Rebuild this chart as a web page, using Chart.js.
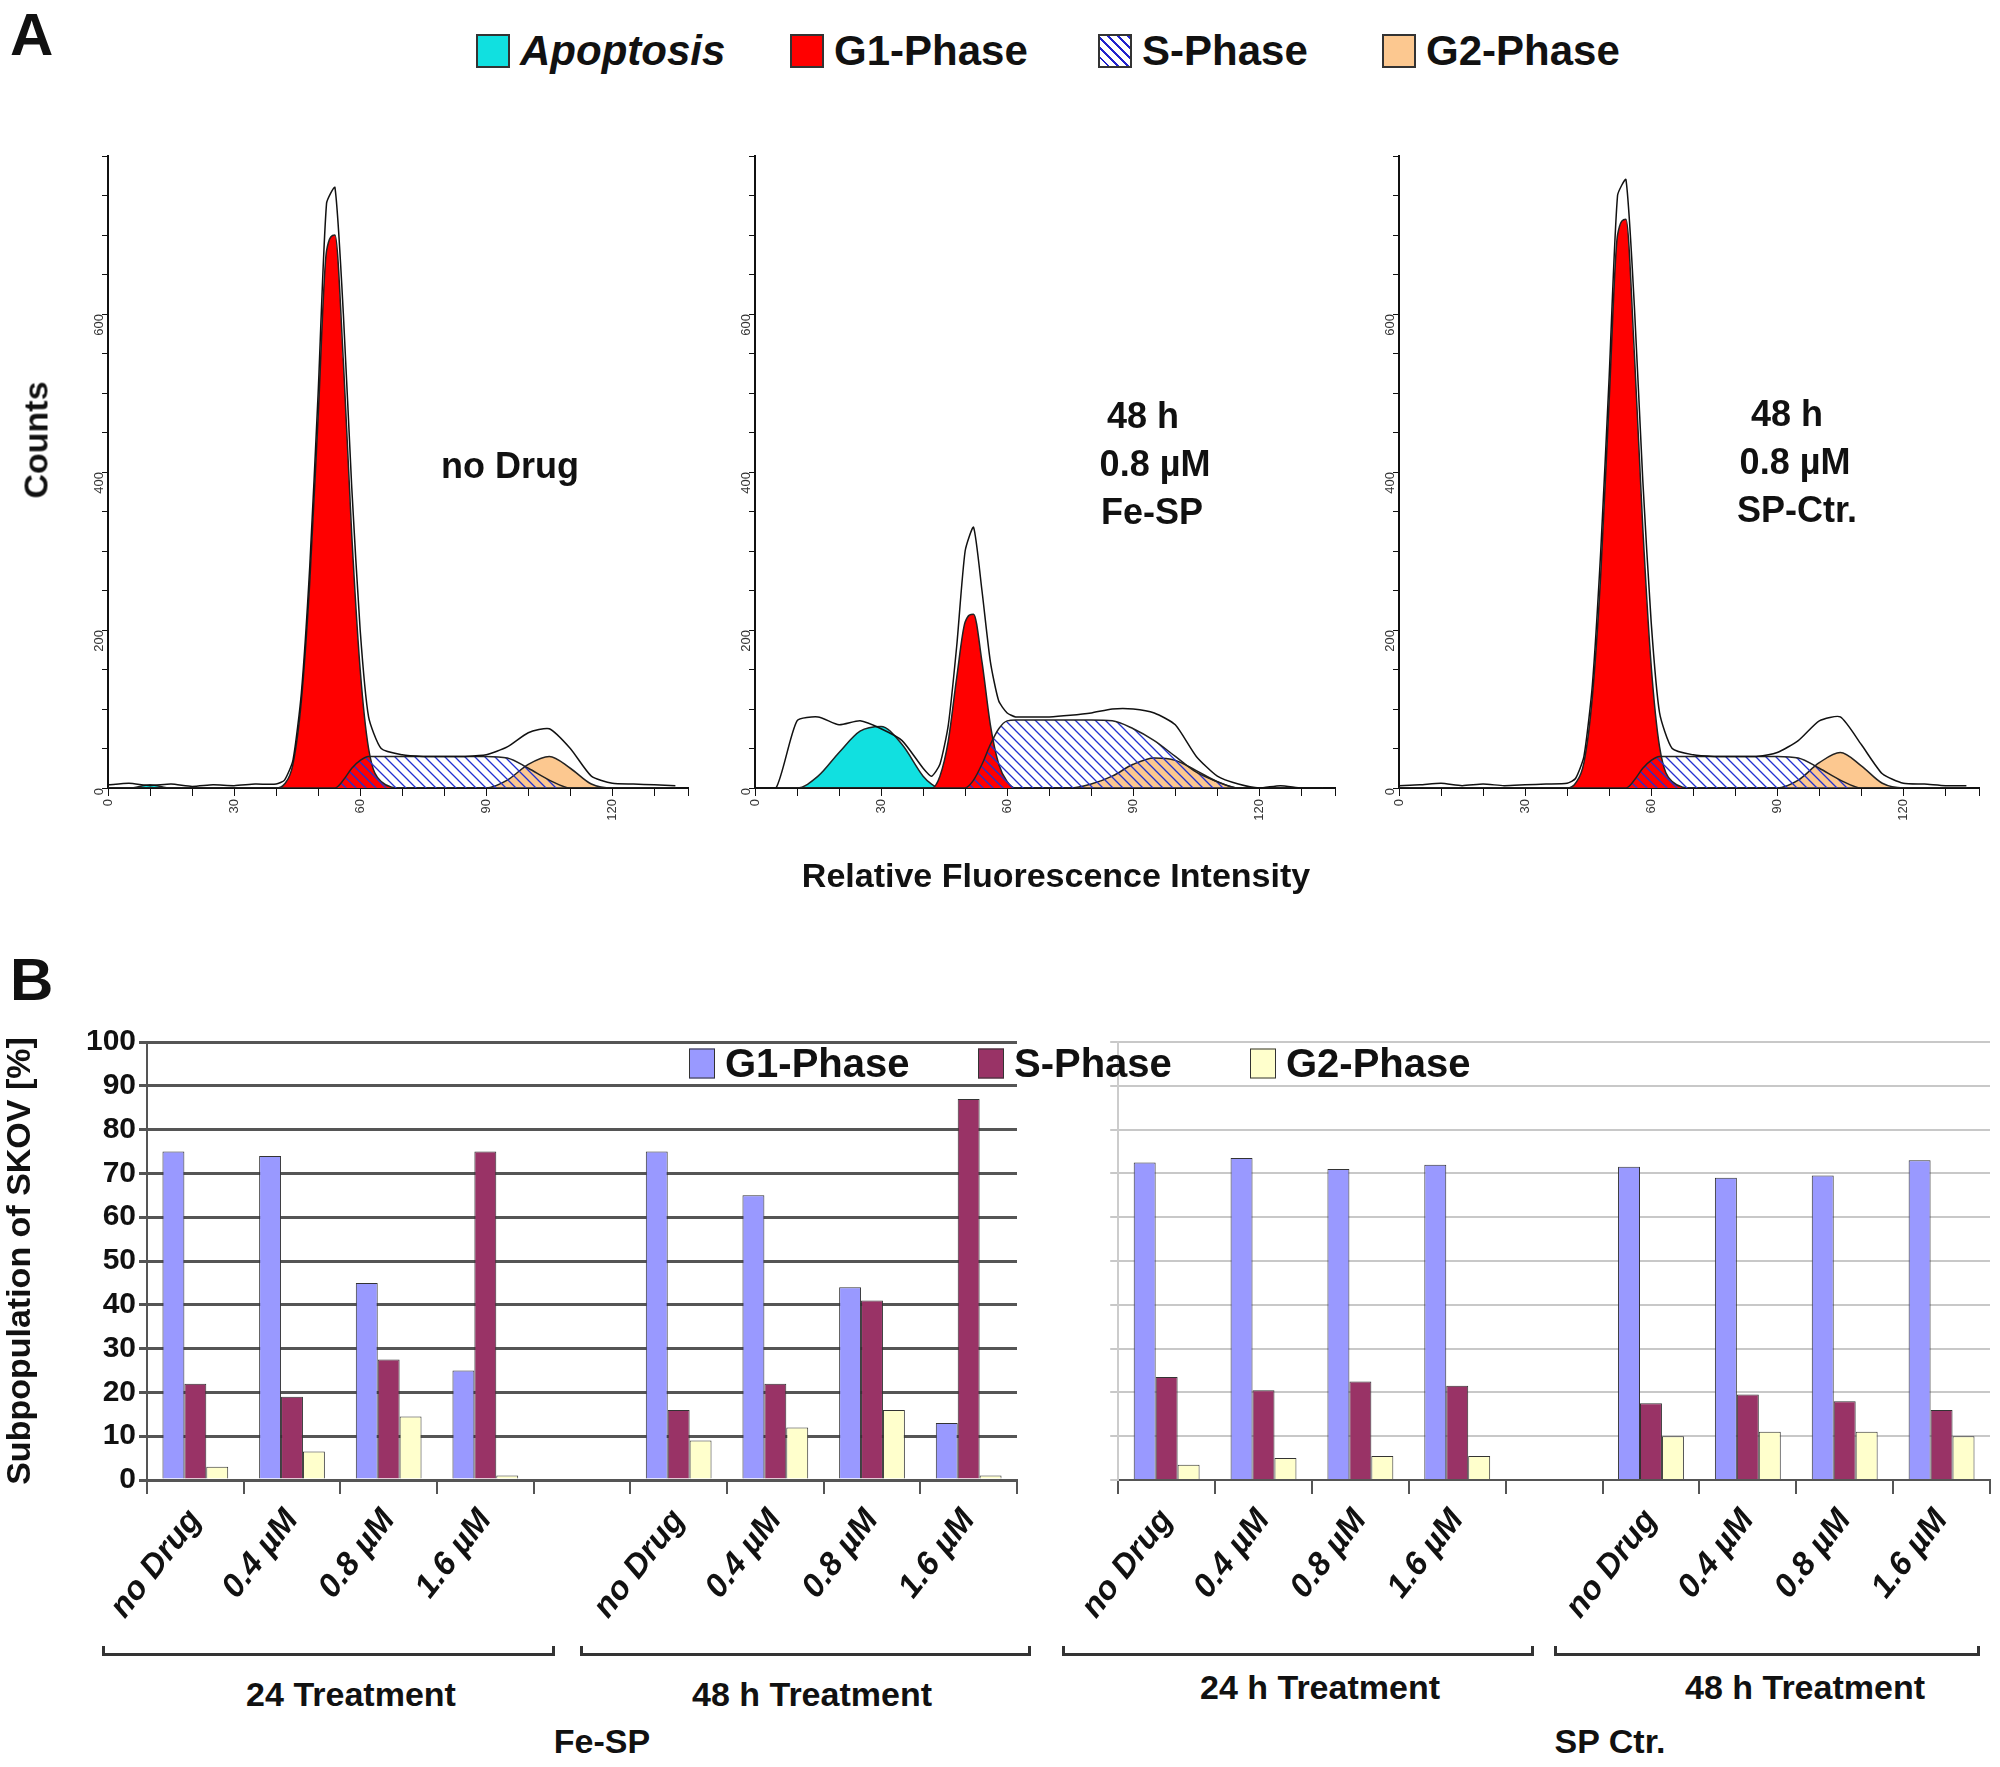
<!DOCTYPE html>
<html><head><meta charset="utf-8">
<script src="https://cdn.jsdelivr.net/npm/chart.js@4"></script>
<style>
body{margin:0;background:#fff;font-family:"Liberation Sans",Arial,sans-serif;}
#wrap{position:relative;width:2000px;height:1767px;overflow:hidden;}
canvas{position:absolute;}
.t{position:absolute;font-weight:bold;color:#111;white-space:nowrap;transform:translate(-50%,-50%);}
.lg{position:absolute;font-weight:bold;font-size:42px;color:#111;white-space:nowrap;transform:translateY(-50%);display:flex;align-items:center;}
.lg i.b{display:inline-block;width:34px;height:34px;border:2px solid #333;margin-right:10px;box-sizing:border-box;}
.br{position:absolute;height:10px;border:3px solid #333;border-top:none;box-sizing:border-box;}
</style></head><body>
<div id="wrap">
<div class="t" style="font-size:60px;transform:none;left:10px;top:0">A</div>
<div class="t" style="left:10px;top:945px;font-size:60px;transform:none">B</div>

<div class="lg" style="left:476px;top:51px"><i class="b" style="background:#11e0e0"></i><span style="font-style:italic">Apoptosis</span></div>
<div class="lg" style="left:790px;top:51px"><i class="b" style="background:#ff0000"></i>G1-Phase</div>
<div class="lg" style="left:1098px;top:51px"><i class="b" style="background:repeating-linear-gradient(45deg,#fff 0 5px,#2222cc 5px 7px)"></i>S-Phase</div>
<div class="lg" style="left:1382px;top:51px"><i class="b" style="background:#fcc890"></i>G2-Phase</div>

<canvas id="a1" style="left:48px;top:140px" width="660" height="720"></canvas>
<canvas id="a2" style="left:695px;top:140px" width="660" height="720"></canvas>
<canvas id="a3" style="left:1339px;top:140px" width="660" height="720"></canvas>

<div class="t" style="left:36px;top:440px;font-size:34px;transform:translate(-50%,-50%) rotate(-90deg)">Counts</div>
<div class="t" style="left:510px;top:466px;font-size:36px">no Drug</div>
<div class="t" style="left:1143px;top:416px;font-size:36px">48 h</div>
<div class="t" style="left:1155px;top:464px;font-size:36px">0.8 µM</div>
<div class="t" style="left:1152px;top:512px;font-size:36px">Fe-SP</div>
<div class="t" style="left:1787px;top:414px;font-size:36px">48 h</div>
<div class="t" style="left:1795px;top:462px;font-size:36px">0.8 µM</div>
<div class="t" style="left:1797px;top:510px;font-size:36px">SP-Ctr.</div>
<div class="t" style="left:1056px;top:875px;font-size:34px">Relative Fluorescence Intensity</div>

<canvas id="b1" style="left:0px;top:1020px" width="1030" height="640"></canvas>
<canvas id="b2" style="left:1080px;top:1020px" width="920" height="640"></canvas>

<div class="lg" style="left:689px;top:1063px;font-size:40px"><i class="b" style="background:#9999ff;width:26px;height:30px;border-width:1px"></i>G1-Phase</div>
<div class="lg" style="left:978px;top:1063px;font-size:40px"><i class="b" style="background:#993366;width:26px;height:30px;border-width:1px"></i>S-Phase</div>
<div class="lg" style="left:1250px;top:1063px;font-size:40px"><i class="b" style="background:#ffffcc;width:26px;height:30px;border-width:1px"></i>G2-Phase</div>

<div class="br" style="left:102px;top:1646px;width:453px"></div>
<div class="br" style="left:580px;top:1646px;width:451px"></div>
<div class="br" style="left:1062px;top:1646px;width:472px"></div>
<div class="br" style="left:1554px;top:1646px;width:426px"></div>
<div class="t" style="left:351px;top:1694px;font-size:34px">24 Treatment</div>
<div class="t" style="left:812px;top:1694px;font-size:34px">48 h Treatment</div>
<div class="t" style="left:1320px;top:1687px;font-size:34px">24 h Treatment</div>
<div class="t" style="left:1805px;top:1687px;font-size:34px">48 h Treatment</div>
<div class="t" style="left:602px;top:1741px;font-size:34px">Fe-SP</div>
<div class="t" style="left:1610px;top:1741px;font-size:34px">SP Ctr.</div>
</div>
<script>
// histogram sample positions (relative fluorescence)
const xs = [0,5,10,15,20,25,30,35,40,42,44,46,48,50,52,54,56,58,60,62,65,70,75,80,85,90,95,100,105,110,115,120,125,130,135];

// panel 1: no Drug
const p1Raw = [4,6,3,5,2,4,3,5,5,10,35,120,280,500,740,760,600,380,200,90,50,42,40,40,40,42,52,70,75,50,15,6,5,4,3];
const p1G1  = [0,0,0,0,0,0,0,0,0,5,30,110,260,470,680,700,540,320,150,50,8,0,0,0,0,0,0,0,0,0,0,0,0,0,0];
const p1S   = [0,0,0,0,0,0,0,0,0,0,0,0,0,0,0,0,10,25,35,40,40,40,40,40,40,40,38,25,10,0,0,0,0,0,0];
const p1G2  = [0,0,0,0,0,0,0,0,0,0,0,0,0,0,0,0,0,0,0,0,0,0,0,0,0,0,10,30,40,25,5,0,0,0,0];
const p1Ap  = [0,0,4,0,0,0,0,0,0,0,0,0,0,0,0,0,0,0,0,0,0,0,0,0,0,0,0,0,0,0,0,0,0,0,0];

// panel 2: 48 h 0.8 µM Fe-SP
const p2Raw = [0,0,85,90,80,85,75,60,25,15,30,80,180,300,330,250,160,110,95,90,90,90,92,95,100,100,95,80,40,15,5,0,3,0,0];
const p2G1  = [0,0,0,0,0,0,0,0,0,0,15,60,140,210,220,160,80,30,8,0,0,0,0,0,0,0,0,0,0,0,0,0,0,0,0];
const p2S   = [0,0,0,0,0,0,0,0,0,0,0,0,0,0,10,30,55,75,85,86,86,86,86,86,85,75,60,40,20,8,0,0,0,0,0];
const p2G2  = [0,0,0,0,0,0,0,0,0,0,0,0,0,0,0,0,0,0,0,0,0,0,0,5,15,30,38,35,22,8,0,0,0,0,0];
const p2Ap  = [0,0,0,15,45,72,78,55,15,5,0,0,0,0,0,0,0,0,0,0,0,0,0,0,0,0,0,0,0,0,0,0,0,0,0];

// panel 3: 48 h 0.8 µM SP-Ctr.
const p3Raw = [3,4,6,3,5,3,4,5,6,12,40,130,300,520,750,770,610,390,210,95,50,42,40,40,40,45,60,85,90,55,18,6,5,3,3];
const p3G1  = [0,0,0,0,0,0,0,0,0,6,32,115,270,490,700,720,550,330,155,52,8,0,0,0,0,0,0,0,0,0,0,0,0,0,0];
const p3S   = [0,0,0,0,0,0,0,0,0,0,0,0,0,0,0,0,10,25,35,40,40,40,40,40,40,40,38,25,10,0,0,0,0,0,0];
const p3G2  = [0,0,0,0,0,0,0,0,0,0,0,0,0,0,0,0,0,0,0,0,0,0,0,0,0,0,10,32,45,28,6,0,0,0,0];
const p3Ap  = [0,0,0,0,0,0,0,0,0,0,0,0,0,0,0,0,0,0,0,0,0,0,0,0,0,0,0,0,0,0,0,0,0,0,0];

// panel B
const barLabels = ['no Drug','0.4 µM','0.8 µM','1.6 µM','','no Drug','0.4 µM','0.8 µM','1.6 µM'];
const feG1 = [75,74,45,25,null,75,65,44,13];
const feS  = [22,19,27.5,75,null,16,22,41,87];
const feG2 = [3,6.5,14.5,1,null,9,12,16,1];
const spG1 = [72.5,73.5,71,72,null,71.5,69,69.5,73];
const spS  = [23.5,20.5,22.5,21.5,null,17.5,19.5,18,16];
const spG2 = [3.5,5,5.5,5.5,null,10,11,11,10];

function hatch() {
    const c = document.createElement('canvas');
    c.width = 10; c.height = 10;
    const g = c.getContext('2d');
    g.strokeStyle = '#2230d0'; g.lineWidth = 1.3;
    g.beginPath(); g.moveTo(0,0); g.lineTo(10,10); g.moveTo(-5,5); g.lineTo(5,15); g.moveTo(5,-5); g.lineTo(15,5); g.stroke();
    return g.createPattern(c, 'repeat');
}
const pts = arr => xs.map((x, i) => ({x: x, y: arr[i]}));

function area(data, fill, order) {
    return {data: pts(data), backgroundColor: fill, borderColor: '#222', borderWidth: 1.5,
        fill: 'origin', pointRadius: 0, cubicInterpolationMode: 'monotone', order: order};
}

function histo(id, raw, g1, s, g2, ap) {
    new Chart(document.getElementById(id), {
        type: 'line',
        data: {datasets: [
            {data: pts(raw), borderColor: '#111', borderWidth: 1.5, fill: false, pointRadius: 0, tension: 0.2, order: 0},
            area(s, hatch(), 1),
            area(g1, '#ff0000', 2),
            area(g2, '#fcc890', 3),
            area(ap, '#11e0e0', 3)
        ]},
        options: {
            responsive: false, animation: false,
            layout: {padding: {top: 16, right: 20}},
            plugins: {legend: {display: false}, tooltip: {enabled: false}},
            scales: {
                x: {type: 'linear', min: 0, max: 138,
                    afterFit: sc => { sc.height = 72; },
                    border: {color: '#111', width: 2},
                    grid: {drawOnChartArea: false, color: '#111', tickLength: 8},
                    ticks: {stepSize: 10, minRotation: 90, maxRotation: 90, color: '#333', font: {size: 13},
                        callback: v => v % 30 === 0 ? v : ''}},
                y: {min: 0, max: 800,
                    afterFit: sc => { sc.width = 60; },
                    border: {color: '#111', width: 2},
                    grid: {drawOnChartArea: false, color: '#111', tickLength: 6},
                    ticks: {stepSize: 50, minRotation: 90, maxRotation: 90, color: '#333', font: {size: 13},
                        callback: v => (v % 200 === 0 && v < 800) ? v : ''}}
            }
        }
    });
}
histo('a1', p1Raw, p1G1, p1S, p1G2, p1Ap);
histo('a2', p2Raw, p2G1, p2S, p2G2, p2Ap);
histo('a3', p3Raw, p3G1, p3S, p3G2, p3Ap);

function bars(id, g1, s, g2, left) {
    const ds = (d, c) => ({data: d, backgroundColor: c, borderColor: '#333', borderWidth: 1,
        categoryPercentage: 0.68, barPercentage: 1});
    new Chart(document.getElementById(id), {
        type: 'bar',
        data: {labels: barLabels, datasets: [ds(g1, '#9999ff'), ds(s, '#993366'), ds(g2, '#ffffcc')]},
        options: {
            responsive: false, animation: false,
            layout: {padding: {top: 22, right: left ? 13 : 10}},
            plugins: {legend: {display: false}, tooltip: {enabled: false}},
            scales: {
                x: {afterFit: sc => { sc.height = 180; },
                    border: {color: '#555', width: 2},
                    grid: {drawOnChartArea: false, offset: true, color: '#555', tickLength: 14, lineWidth: 2},
                    ticks: {minRotation: 52, maxRotation: 52, color: '#111', padding: 8,
                        font: {size: 33, style: 'italic', weight: 'bold', family: 'Liberation Sans'}}},
                y: {min: 0, max: 100,
                    afterFit: sc => { sc.width = left ? 147 : 14; },
                    border: {color: left ? '#555' : '#ccc', width: 2},
                    grid: {color: left ? '#555' : '#c8c8c8', lineWidth: left ? 3 : 2, tickLength: 8},
                    title: {display: left, text: 'Subpopulation of SKOV [%]', color: '#111',
                        font: {size: 34, weight: 'bold', family: 'Liberation Sans'}, padding: 0},
                    ticks: {display: left, stepSize: 10, color: '#111',
                        font: {size: 30, weight: 'bold', family: 'Liberation Sans'}}}
            }
        }
    });
}
bars('b1', feG1, feS, feG2, true);
bars('b2', spG1, spS, spG2, false);
</script>
</body></html>
